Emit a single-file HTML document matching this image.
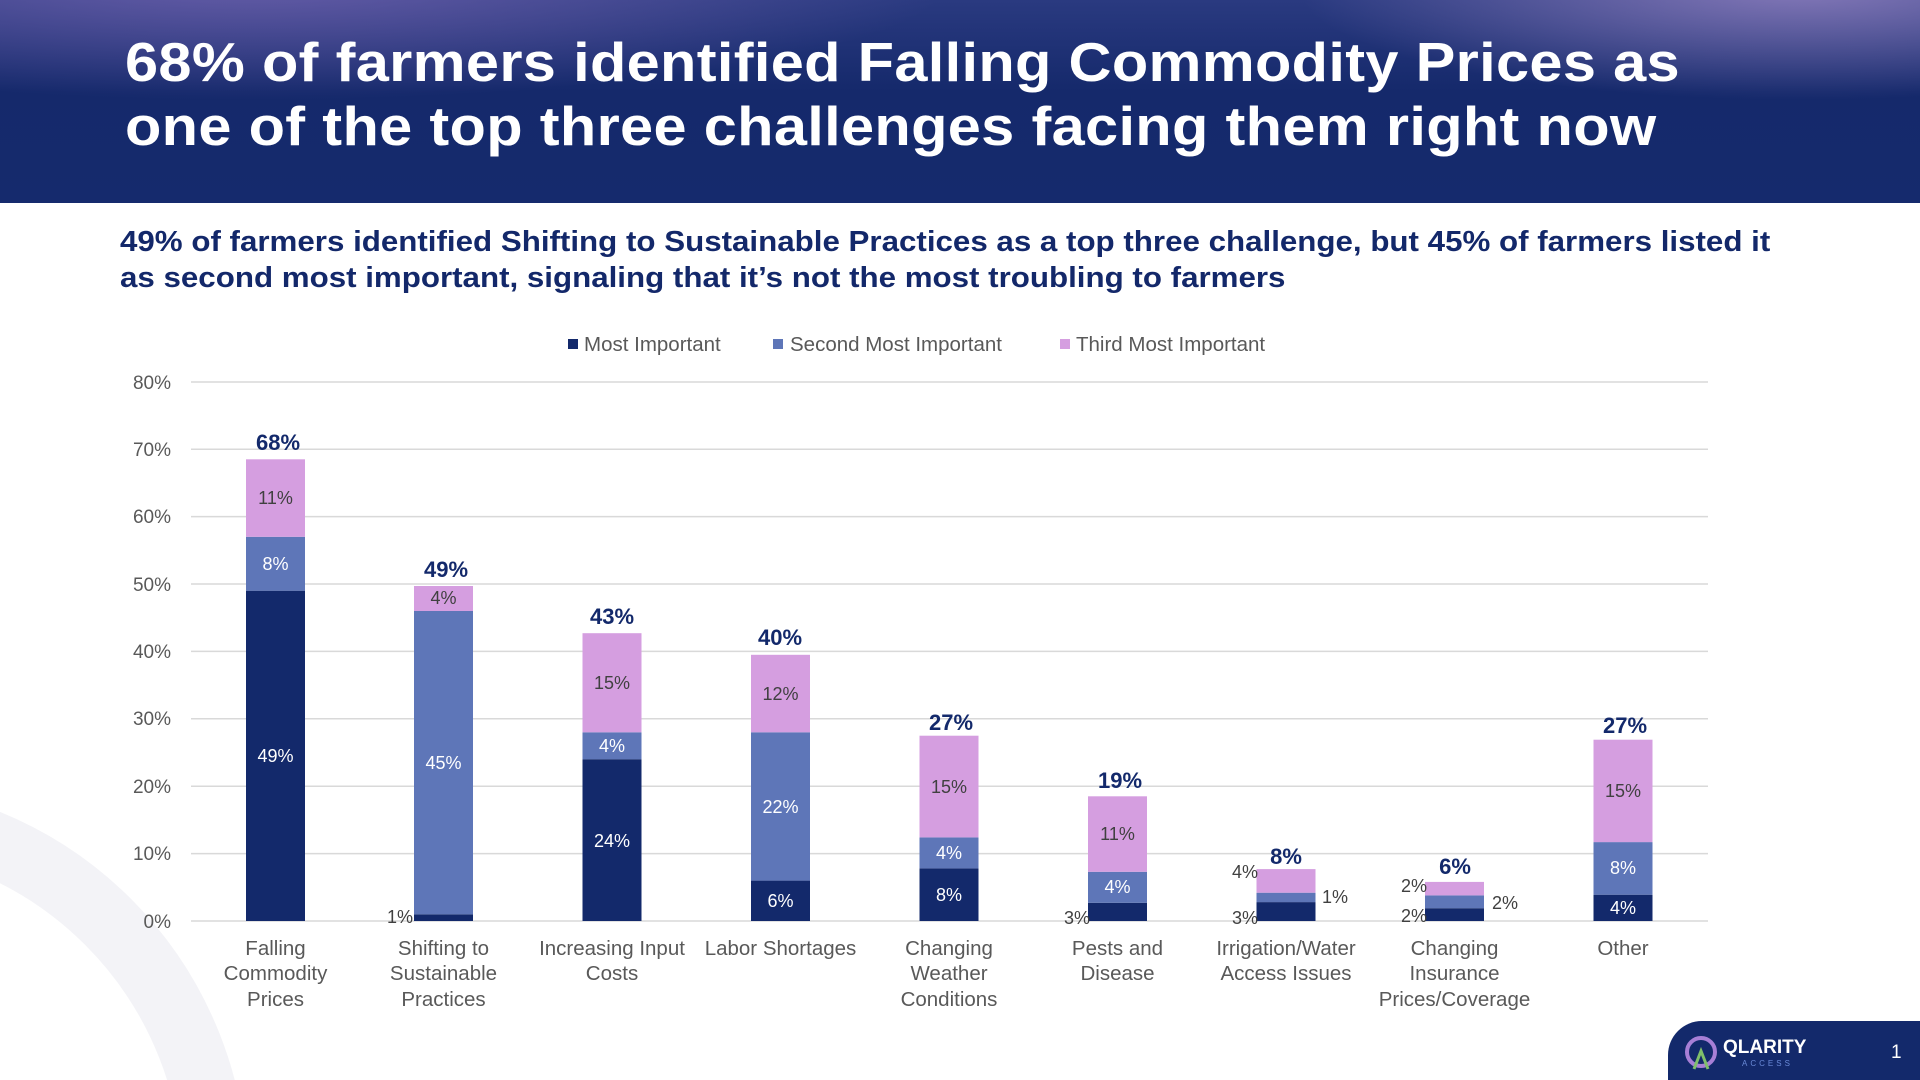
<!DOCTYPE html>
<html><head><meta charset="utf-8"><style>
html,body{margin:0;padding:0;width:1920px;height:1080px;overflow:hidden;background:#fff;font-family:"Liberation Sans",sans-serif;position:relative}
svg{display:block}
#hdr{position:absolute;left:0;top:0;width:1920px;height:203px;background:
radial-gradient(ellipse 700px 120px at 250px -20px,rgba(150,120,200,.55),rgba(150,120,200,0) 100%),
radial-gradient(ellipse 500px 110px at 1800px -10px,rgba(190,160,220,.6),rgba(190,160,220,0) 100%),
linear-gradient(180deg,#2a3a80 0%,#15296b 45%,#152a6d 100%)}
#t{position:absolute;left:125px;top:30px;color:#fff;font-weight:bold;font-size:55px;line-height:64px;letter-spacing:.3px;transform:scaleX(1.082);transform-origin:0 0;white-space:nowrap}
#s{position:absolute;left:120px;top:224px;color:#13286a;font-weight:bold;font-size:28.5px;line-height:36px;transform:scaleX(1.098);transform-origin:0 0;white-space:nowrap}
#ft{position:absolute;left:1668px;top:1021px;width:252px;height:59px;background:#13296b;border-top-left-radius:34px}
</style></head><body>
<svg width="1920" height="1080" style="position:absolute;left:0;top:0">
<circle cx="-150" cy="1180" r="365" fill="none" stroke="#f3f3f7" stroke-width="65"/>
</svg>
<div id="hdr"></div>
<div id="t">68% of farmers identified Falling Commodity Prices as<br>one of the top three challenges facing them right now</div>
<div id="s">49% of farmers identified Shifting to Sustainable Practices as a top three challenge, but 45% of farmers listed it<br>as second most important, signaling that it’s not the most troubling to farmers</div>
<svg width="1920" height="1080" style="position:absolute;left:0;top:0" font-family="Liberation Sans, sans-serif">
<g stroke="#d9d9d9" stroke-width="1.5">
<line x1="191" x2="1708" y1="382" y2="382"/><line x1="191" x2="1708" y1="449.2" y2="449.2"/><line x1="191" x2="1708" y1="516.6" y2="516.6"/><line x1="191" x2="1708" y1="584" y2="584"/><line x1="191" x2="1708" y1="651.4" y2="651.4"/><line x1="191" x2="1708" y1="718.8" y2="718.8"/><line x1="191" x2="1708" y1="786.2" y2="786.2"/><line x1="191" x2="1708" y1="853.6" y2="853.6"/><line x1="191" x2="1708" y1="921" y2="921"/>
</g>
<g fill="#595959" font-size="19" text-anchor="end">
<text x="171" y="389">80%</text><text x="171" y="456">70%</text><text x="171" y="523">60%</text><text x="171" y="591">50%</text><text x="171" y="658">40%</text><text x="171" y="725">30%</text><text x="171" y="793">20%</text><text x="171" y="860">10%</text><text x="171" y="928">0%</text>
</g>
<g font-size="20.5" fill="#595959">
<rect x="568" y="339" width="10" height="10" fill="#13296b"/><text x="584" y="351">Most Important</text>
<rect x="773" y="339" width="10" height="10" fill="#5e76b8"/><text x="790" y="351">Second Most Important</text>
<rect x="1060" y="339" width="10" height="10" fill="#d59ee0"/><text x="1076" y="351">Third Most Important</text>
</g>
<g>
<rect x="246" y="590.7" width="59" height="330.3" fill="#13296b"/><rect x="246" y="536.8" width="59" height="53.9" fill="#5e76b8"/><rect x="246" y="459.3" width="59" height="77.5" fill="#d59ee0"/>
<rect x="414" y="914.3" width="59" height="6.7" fill="#13296b"/><rect x="414" y="611" width="59" height="303.3" fill="#5e76b8"/><rect x="414" y="586" width="59" height="25" fill="#d59ee0"/>
<rect x="582.5" y="759.2" width="59" height="161.8" fill="#13296b"/><rect x="582.5" y="732.3" width="59" height="26.9" fill="#5e76b8"/><rect x="582.5" y="633.2" width="59" height="99.1" fill="#d59ee0"/>
<rect x="751" y="880.6" width="59" height="40.4" fill="#13296b"/><rect x="751" y="732.3" width="59" height="148.3" fill="#5e76b8"/><rect x="751" y="654.8" width="59" height="77.5" fill="#d59ee0"/>
<rect x="919.5" y="868.4" width="59" height="52.6" fill="#13296b"/><rect x="919.5" y="837.4" width="59" height="31" fill="#5e76b8"/><rect x="919.5" y="735.7" width="59" height="101.7" fill="#d59ee0"/>
<rect x="1088" y="902.8" width="59" height="18.2" fill="#13296b"/><rect x="1088" y="871.8" width="59" height="31" fill="#5e76b8"/><rect x="1088" y="796.3" width="59" height="75.5" fill="#d59ee0"/>
<rect x="1256.5" y="902.1" width="59" height="18.9" fill="#13296b"/><rect x="1256.5" y="892.7" width="59" height="9.4" fill="#5e76b8"/><rect x="1256.5" y="869.1" width="59" height="23.6" fill="#d59ee0"/>
<rect x="1425" y="908.2" width="59" height="12.8" fill="#13296b"/><rect x="1425" y="895.4" width="59" height="12.8" fill="#5e76b8"/><rect x="1425" y="881.9" width="59" height="13.5" fill="#d59ee0"/>
<rect x="1593.5" y="894.7" width="59" height="26.3" fill="#13296b"/><rect x="1593.5" y="842.1" width="59" height="52.6" fill="#5e76b8"/><rect x="1593.5" y="739.7" width="59" height="102.4" fill="#d59ee0"/>
</g>
<g font-size="18" text-anchor="middle" fill="#fff">
<text x="275.5" y="762">49%</text><text x="275.5" y="570">8%</text>
<text x="443.5" y="769">45%</text>
<text x="612" y="847">24%</text><text x="612" y="752">4%</text>
<text x="780.5" y="907">6%</text><text x="780.5" y="813">22%</text>
<text x="949" y="901">8%</text><text x="949" y="859">4%</text>
<text x="1117.5" y="893">4%</text>
<text x="1623" y="914">4%</text><text x="1623" y="874">8%</text>
</g>
<g font-size="18" text-anchor="middle" fill="#404040">
<text x="275.5" y="504">11%</text><text x="443.5" y="604">4%</text><text x="612" y="689">15%</text><text x="780.5" y="700">12%</text><text x="949" y="793">15%</text><text x="1117.5" y="840">11%</text><text x="1623" y="797">15%</text>
<text x="400" y="923">1%</text>
<text x="1077" y="924">3%</text>
<text x="1245" y="924">3%</text><text x="1245" y="878">4%</text><text x="1335" y="903">1%</text>
<text x="1414" y="922">2%</text><text x="1414" y="892">2%</text><text x="1505" y="909">2%</text>
</g>
<g font-size="22" font-weight="bold" text-anchor="middle" fill="#13296b">
<text x="278" y="450">68%</text><text x="446" y="577">49%</text><text x="612" y="624">43%</text><text x="780" y="645">40%</text><text x="951" y="730">27%</text><text x="1120" y="788">19%</text><text x="1286" y="864">8%</text><text x="1455" y="874">6%</text><text x="1625" y="733">27%</text>
</g>
<g font-size="20.5" text-anchor="middle" fill="#595959">
<text x="275.5" y="955">Falling</text><text x="275.5" y="980">Commodity</text><text x="275.5" y="1006">Prices</text>
<text x="443.5" y="955">Shifting to</text><text x="443.5" y="980">Sustainable</text><text x="443.5" y="1006">Practices</text>
<text x="612" y="955">Increasing Input</text><text x="612" y="980">Costs</text>
<text x="780.5" y="955">Labor Shortages</text>
<text x="949" y="955">Changing</text><text x="949" y="980">Weather</text><text x="949" y="1006">Conditions</text>
<text x="1117.5" y="955">Pests and</text><text x="1117.5" y="980">Disease</text>
<text x="1286" y="955">Irrigation/Water</text><text x="1286" y="980">Access Issues</text>
<text x="1454.5" y="955">Changing</text><text x="1454.5" y="980">Insurance</text><text x="1454.5" y="1006">Prices/Coverage</text>
<text x="1623" y="955">Other</text>
</g>
</svg>
<div id="ft"></div>
<svg width="252" height="59" style="position:absolute;left:1668px;top:1021px" font-family="Liberation Sans, sans-serif">
<circle cx="33" cy="31" r="14" fill="none" stroke="#a77fd6" stroke-width="4"/>
<path d="M26 48 L33 30 L40 48" fill="none" stroke="#7fbf6a" stroke-width="3"/>
<text x="55" y="32" fill="#fff" font-size="19" font-weight="bold">QLARITY</text>
<text x="74" y="45" fill="#6a8ad8" font-size="8" letter-spacing="3">ACCESS</text>
<text x="223" y="37" fill="#fff" font-size="19">1</text>
</svg>
</body></html>
